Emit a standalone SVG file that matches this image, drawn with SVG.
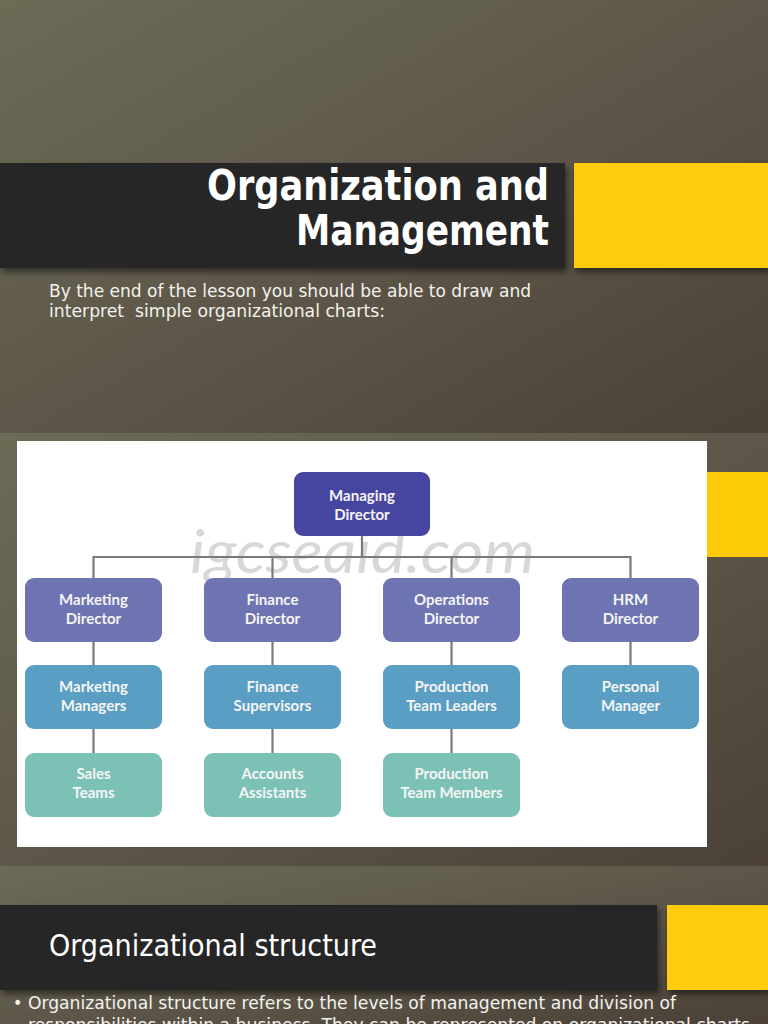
<svg xmlns="http://www.w3.org/2000/svg" width="768" height="1024" viewBox="0 0 768 1024">
  <defs>
    <linearGradient id="bg" x1="0" y1="0" x2="1" y2="1">
      <stop offset="0" stop-color="#6b6b56"/>
      <stop offset="0.5" stop-color="#5e5749"/>
      <stop offset="1" stop-color="#4b4137"/>
    </linearGradient>
    <filter id="sh" x="-5%" y="-10%" width="110%" height="130%">
      <feGaussianBlur in="SourceAlpha" stdDeviation="3"/>
      <feOffset dx="2" dy="4"/>
      <feComponentTransfer><feFuncA type="linear" slope="0.5"/></feComponentTransfer>
      <feMerge><feMergeNode/><feMergeNode in="SourceGraphic"/></feMerge>
    </filter>
  </defs>
  <style>
    .slide-text { font-family: "DejaVu Sans Condensed", "DejaVu Sans", sans-serif; fill: #ffffff; }
    .body { fill: #f2f2ee; font-size: 17.5px; }
    .bar { fill: #262626; }
    .yellow { fill: #fecb08; }
    .node text { font-family: Lato, "Noto Sans", sans-serif; font-size: 15px; font-weight: bold; fill: #f5f5f5; text-anchor: middle; }
    .md { fill: #4646a0; }
    .dir { fill: #6e74b1; }
    .mgr { fill: #5a9ec3; }
    .team { fill: #7cc1b5; }
    .conn { stroke: #7a7a7a; stroke-width: 2.2; fill: none; }
  </style>

  <!-- Slide 1 -->
  <rect x="0" y="0" width="768" height="433" fill="url(#bg)"/>
  <rect class="bar" x="0" y="163" width="565" height="105" filter="url(#sh)"/>
  <rect class="yellow" x="574" y="163" width="194" height="105" filter="url(#sh)"/>
  <text class="slide-text" x="549" y="200" font-size="43" font-weight="bold" text-anchor="end" textLength="342" lengthAdjust="spacingAndGlyphs">Organization and</text>
  <text class="slide-text" x="549" y="245" font-size="43" font-weight="bold" text-anchor="end" textLength="253" lengthAdjust="spacingAndGlyphs">Management</text>
  <text class="slide-text body" x="49" y="297" textLength="482" lengthAdjust="spacingAndGlyphs">By the end of the lesson you should be able to draw and</text>
  <text class="slide-text body" x="49" y="317" textLength="336" lengthAdjust="spacingAndGlyphs" xml:space="preserve">interpret  simple organizational charts:</text>

  <!-- Slide 2 -->
  <rect x="0" y="433" width="768" height="433" fill="url(#bg)"/>
  <rect class="yellow" x="706" y="472" width="62" height="85"/>
  <rect x="17" y="441" width="690" height="406" fill="#ffffff"/>
  <text x="190" y="573" font-family="Lato, 'Noto Sans', sans-serif" font-size="60" font-style="italic" fill="#cfcfcf" opacity="0.8" textLength="345" lengthAdjust="spacingAndGlyphs">igcseaid.com</text>

  <g id="connectors">
    <line class="conn" x1="362" y1="536" x2="362" y2="557"/>
    <line class="conn" x1="93.5" y1="557" x2="630.5" y2="557"/>
    <line class="conn" x1="93.5" y1="556" x2="93.5" y2="578"/>
    <line class="conn" x1="272.5" y1="556" x2="272.5" y2="578"/>
    <line class="conn" x1="451.5" y1="556" x2="451.5" y2="578"/>
    <line class="conn" x1="630.5" y1="556" x2="630.5" y2="578"/>
    <line class="conn" x1="93.5" y1="641" x2="93.5" y2="665"/>
    <line class="conn" x1="272.5" y1="641" x2="272.5" y2="665"/>
    <line class="conn" x1="451.5" y1="641" x2="451.5" y2="665"/>
    <line class="conn" x1="630.5" y1="641" x2="630.5" y2="665"/>
    <line class="conn" x1="93.5" y1="729" x2="93.5" y2="753"/>
    <line class="conn" x1="272.5" y1="729" x2="272.5" y2="753"/>
    <line class="conn" x1="451.5" y1="729" x2="451.5" y2="753"/>
  </g>

  <g id="managing-director" class="node">
    <rect class="md" x="294" y="472" width="136" height="64" rx="9"/>
    <text x="362" y="501">Managing</text>
    <text x="362" y="520">Director</text>
  </g>

  <g id="marketing-director" class="node">
    <rect class="dir" x="25" y="578" width="137" height="64" rx="9"/>
    <text x="93.5" y="605">Marketing</text>
    <text x="93.5" y="624">Director</text>
  </g>
  <g id="finance-director" class="node">
    <rect class="dir" x="204" y="578" width="137" height="64" rx="9"/>
    <text x="272.5" y="605">Finance</text>
    <text x="272.5" y="624">Director</text>
  </g>
  <g id="operations-director" class="node">
    <rect class="dir" x="383" y="578" width="137" height="64" rx="9"/>
    <text x="451.5" y="605">Operations</text>
    <text x="451.5" y="624">Director</text>
  </g>
  <g id="hrm-director" class="node">
    <rect class="dir" x="562" y="578" width="137" height="64" rx="9"/>
    <text x="630.5" y="605">HRM</text>
    <text x="630.5" y="624">Director</text>
  </g>

  <g id="marketing-managers" class="node">
    <rect class="mgr" x="25" y="665" width="137" height="64" rx="9"/>
    <text x="93.5" y="692">Marketing</text>
    <text x="93.5" y="711">Managers</text>
  </g>
  <g id="finance-supervisors" class="node">
    <rect class="mgr" x="204" y="665" width="137" height="64" rx="9"/>
    <text x="272.5" y="692">Finance</text>
    <text x="272.5" y="711">Supervisors</text>
  </g>
  <g id="production-team-leaders" class="node">
    <rect class="mgr" x="383" y="665" width="137" height="64" rx="9"/>
    <text x="451.5" y="692">Production</text>
    <text x="451.5" y="711">Team Leaders</text>
  </g>
  <g id="personal-manager" class="node">
    <rect class="mgr" x="562" y="665" width="137" height="64" rx="9"/>
    <text x="630.5" y="692">Personal</text>
    <text x="630.5" y="711">Manager</text>
  </g>

  <g id="sales-teams" class="node">
    <rect class="team" x="25" y="753" width="137" height="64" rx="9"/>
    <text x="93.5" y="779">Sales</text>
    <text x="93.5" y="798">Teams</text>
  </g>
  <g id="accounts-assistants" class="node">
    <rect class="team" x="204" y="753" width="137" height="64" rx="9"/>
    <text x="272.5" y="779">Accounts</text>
    <text x="272.5" y="798">Assistants</text>
  </g>
  <g id="production-team-members" class="node">
    <rect class="team" x="383" y="753" width="137" height="64" rx="9"/>
    <text x="451.5" y="779">Production</text>
    <text x="451.5" y="798">Team Members</text>
  </g>

  <!-- Slide 3 -->
  <rect x="0" y="866" width="768" height="158" fill="url(#bg)"/>
  <rect class="bar" x="0" y="905" width="657" height="85" filter="url(#sh)"/>
  <rect class="yellow" x="667" y="905" width="101" height="85" filter="url(#sh)"/>
  <text class="slide-text" x="49" y="956" font-size="30" textLength="328" lengthAdjust="spacingAndGlyphs">Organizational structure</text>
  <text class="slide-text body" x="13" y="1009" font-size="17">•</text>
  <text class="slide-text body" x="28" y="1009" textLength="648" lengthAdjust="spacingAndGlyphs">Organizational structure refers to the levels of management and division of</text>
  <text class="slide-text body" x="28" y="1031" textLength="722" lengthAdjust="spacingAndGlyphs">responsibilities within a business. They can be represented on organizational charts</text>
</svg>
